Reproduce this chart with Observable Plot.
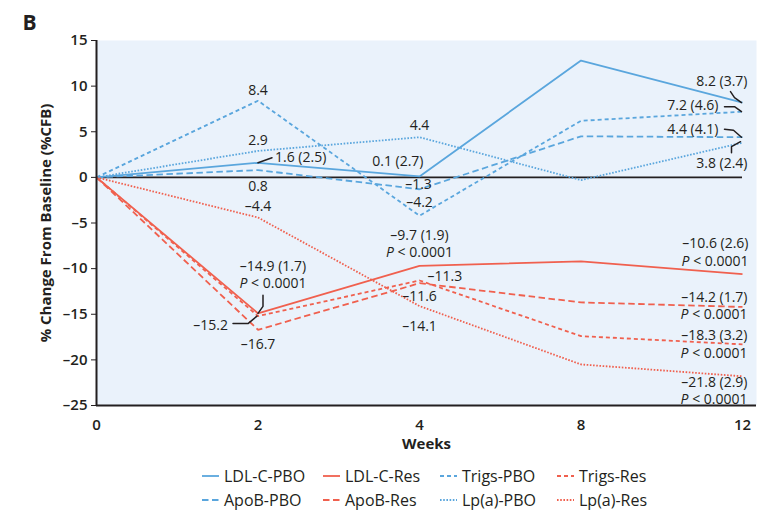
<!DOCTYPE html>
<html><head><meta charset="utf-8">
<script src="https://cdn.jsdelivr.net/npm/d3@7"></script>
<script src="https://cdn.jsdelivr.net/npm/@observablehq/plot@0.6"></script>
<style>
body{margin:0;background:#fff;font-family:"Open Sans",sans-serif;}
#wrap{position:relative;width:775px;height:518px;overflow:hidden;}
#legend{position:absolute;left:0;top:455px;width:775px;height:63px;}
.item{position:absolute;display:flex;align-items:center;font-size:16px;color:#231f20;height:20px;}
.item svg{margin-right:5px;}
</style></head><body><div id="wrap"><div id="chart"></div><div id="legend"></div></div>
<script>
// ---------- data ----------
const weeks = ["0", "2", "4", "8", "12"];
const ldlPbo   = [0, 1.6, 0.1, 12.8, 8.2];
const ldlRes   = [0, -14.9, -9.7, -9.2, -10.6];
const trigsPbo = [0, 8.4, -4.2, 6.2, 7.2];
const trigsRes = [0, -15.2, -11.3, -17.4, -18.3];
const apobPbo  = [0, 0.8, -1.3, 4.5, 4.4];
const apobRes  = [0, -16.7, -11.6, -13.7, -14.2];
const lpaPbo   = [0, 2.9, 4.4, -0.3, 3.8];
const lpaRes   = [0, -4.4, -14.1, -20.5, -21.8];
const seriesNames = ["LDL-C-PBO", "LDL-C-Res", "Trigs-PBO", "Trigs-Res", "ApoB-PBO", "ApoB-Res", "Lp(a)-PBO", "Lp(a)-Res"];
const yTicks = [-25, -20, -15, -10, -5, 0, 5, 10, 15];
// annotation labels: [series, week index, text]
const annotations = [
  ["Trigs-PBO", 1, "8.4"],
  ["Lp(a)-PBO", 1, "2.9"],
  ["LDL-C-PBO", 1, "1.6 (2.5)"],
  ["ApoB-PBO", 1, "0.8"],
  ["Lp(a)-Res", 1, "–4.4"],
  ["LDL-C-Res", 1, "–14.9 (1.7)"],
  ["LDL-C-Res", 1, "P < 0.0001"],
  ["Trigs-Res", 1, "–15.2"],
  ["ApoB-Res", 1, "–16.7"],
  ["Lp(a)-PBO", 2, "4.4"],
  ["LDL-C-PBO", 2, "0.1 (2.7)"],
  ["ApoB-PBO", 2, "–1.3"],
  ["Trigs-PBO", 2, "–4.2"],
  ["LDL-C-Res", 2, "–9.7 (1.9)"],
  ["LDL-C-Res", 2, "P < 0.0001"],
  ["Trigs-Res", 2, "–11.3"],
  ["ApoB-Res", 2, "–11.6"],
  ["Lp(a)-Res", 2, "–14.1"],
  ["LDL-C-PBO", 4, "8.2 (3.7)"],
  ["Trigs-PBO", 4, "7.2 (4.6)"],
  ["ApoB-PBO", 4, "4.4 (4.1)"],
  ["Lp(a)-PBO", 4, "3.8 (2.4)"],
  ["LDL-C-Res", 4, "–10.6 (2.6)"],
  ["LDL-C-Res", 4, "P < 0.0001"],
  ["ApoB-Res", 4, "–14.2 (1.7)"],
  ["ApoB-Res", 4, "P < 0.0001"],
  ["Trigs-Res", 4, "–18.3 (3.2)"],
  ["Trigs-Res", 4, "P < 0.0001"],
  ["Lp(a)-Res", 4, "–21.8 (2.9)"],
  ["Lp(a)-Res", 4, "P < 0.0001"]
];

// ---------- layout ----------
const W = 775, H = 455, mL = 96, mR = 19, mT = 40, mB = 50;
const xMax = 4.0867;
const kx = xMax / (W - mL - mR), ky = 40 / (H - mT - mB);
const BLUE = "#5aa6dd", RED = "#f0604e", INK = "#231f20";
const seriesVals = [ldlPbo, ldlRes, trigsPbo, trigsRes, apobPbo, apobRes, lpaPbo, lpaRes];
const dashFor = s => s.startsWith("LDL") ? null : s.startsWith("Trigs") ? "4,3" : s.startsWith("ApoB") ? "6.5,3.5" : "1.6,1.6";
const colorFor = s => s.endsWith("PBO") ? BLUE : RED;
const valueOf = (s, w) => seriesVals[seriesNames.indexOf(s)][w];

// text offsets (px) for each annotation: [dx, dy, anchor]
const annLayout = [
  [0, -10, "middle"], [0, -10.5, "middle"], [17, -5, "start"], [0, 16, "middle"], [0, -11, "middle"],
  [15, -47, "middle"], [15, -30, "middle"], [-30, 9, "end"], [0, 15, "middle"],
  [0, -12, "middle"], [4, -14.5, "end"], [-1, -5, "middle"], [0, -13, "middle"],
  [0, -30.5, "middle"], [0, -13, "middle"], [8, -4, "start"], [0, 13, "middle"], [0, 20, "middle"],
  [5, -21, "end"], [-24, -6, "end"], [-24, -8, "end"], [5, 21, "end"],
  [6, -31, "end"], [6, -13, "end"], [5, -9, "end"], [5, 8, "end"],
  [5, -9, "end"], [5, 9, "end"], [5, 6, "end"], [5, 23, "end"]
];
const annData = annotations.map(([s, w, t], i) => ({
  w, v: valueOf(s, w), t, dx: annLayout[i][0], dy: annLayout[i][1], a: annLayout[i][2]
}));

// leader lines: [series, week, pixel offsets from the point]
const leaders = [
  ["LDL-C-PBO", 1, [[0, 0], [14, -5]]],
  ["LDL-C-Res", 1, [[5, -18], [5, -7], [0, 0]]],
  ["Trigs-Res", 1, [[-25, 7.5], [-10, 7.5], [-1, 0]]],
  ["LDL-C-PBO", 4, [[-12, -11], [-8, -5], [-1, 0]]],
  ["Trigs-PBO", 4, [[-18, -5], [-8, -5], [-1, 0]]],
  ["ApoB-PBO", 4, [[-18, -8], [-9, -7], [-1, 0]]],
  ["Lp(a)-PBO", 4, [[-11, 10], [-11, 4], [-2, -1]]]
];
const leaderData = leaders.flatMap(([s, w, pts], i) => {
  const v = valueOf(s, w);
  return pts.map(([dx, dy]) => ({id: i, x: w + dx * kx, y: v - dy * ky}));
});

const table = seriesNames.flatMap((s, i) => seriesVals[i].map((v, w) => ({s, w, v})));

const lineMarks = seriesNames.map(s => Plot.line(table.filter(d => d.s === s), {
  x: "w", y: "v", stroke: colorFor(s), strokeWidth: 1.8, strokeDasharray: dashFor(s),
  strokeLinecap: "butt", strokeLinejoin: "miter"
}));

const textMarks = annData.map(d => Plot.text([d], {
  x: "w", y: "v", text: "t", textAnchor: d.a, fontSize: 14, fill: INK, dx: d.dx, dy: d.dy
}));

const chart = Plot.plot({
  width: W, height: H,
  marginLeft: mL, marginRight: mR, marginTop: mT, marginBottom: mB,
  style: {fontFamily: "Open Sans, sans-serif", fontSize: "14px", color: INK, background: "#fff"},
  x: {domain: [0, xMax]},
  y: {domain: [-25, 15]},
  marks: [
    Plot.frame({fill: "#eaf2fb", stroke: null}),
    Plot.axisY({ticks: yTicks, tickSize: 5, tickPadding: 4, fontSize: 15, fontWeight: 600, label: null, tickFormat: d => String(d).replace("-", "–")}),
    Plot.axisX({ticks: [0, 1, 2, 3, 4], tickFormat: i => weeks[i], tickSize: 0, tickPadding: 14, fontSize: 15, fontWeight: 600, label: null}),
    Plot.ruleY([0], {x1: 0, x2: 4, stroke: INK, strokeWidth: 1.8}),
    ...lineMarks,
    Plot.line(leaderData, {x: "x", y: "y", z: "id", stroke: INK, strokeWidth: 1.5}),
    ...textMarks,
    Plot.ruleX([0], {stroke: INK, strokeWidth: 2}),
    Plot.ruleY([-25], {stroke: INK, strokeWidth: 2}),
    Plot.text(["Weeks"], {frameAnchor: "bottom", dy: 43, fontSize: 15, fontWeight: "bold", fill: INK, text: d => d}),
    Plot.text(["% Change From Baseline (%CFB)"], {frameAnchor: "left", textAnchor: "middle", dx: -50, rotate: -90, fontSize: 15, fontWeight: "bold", fill: INK, text: d => d}),
    Plot.text(["B"], {frameAnchor: "top-left", dx: -74, dy: -25, fontSize: 21, fontWeight: "bold", fill: INK, text: d => d})
  ]
});
document.getElementById("chart").appendChild(chart);

// italic P
chart.querySelectorAll("text").forEach(t => {
  if (t.textContent === "P < 0.0001") {
    t.textContent = "";
    const ts = document.createElementNS("http://www.w3.org/2000/svg", "tspan");
    ts.setAttribute("font-style", "italic");
    ts.textContent = "P";
    t.appendChild(ts);
    t.appendChild(document.createTextNode(" < 0.0001"));
  }
});

// legend (row-major: 4 columns x 2 rows)
const legendLeft = [202, 323, 440, 557];
const legend = document.getElementById("legend");
seriesNames.forEach((s, i) => {
  const col = i % 4, row = Math.floor(i / 4);
  const div = document.createElement("div");
  div.className = "item";
  div.style.left = legendLeft[col] + "px";
  div.style.top = (11 + row * 24) + "px";
  const dash = dashFor(s);
  div.innerHTML = `<svg width="17" height="10"><line x1="0" x2="17" y1="5" y2="5" stroke="${colorFor(s)}" stroke-width="1.8" ${dash ? `stroke-dasharray="${dash}"` : ""}/></svg><span>${s}</span>`;
  legend.appendChild(div);
});
</script></body></html>
